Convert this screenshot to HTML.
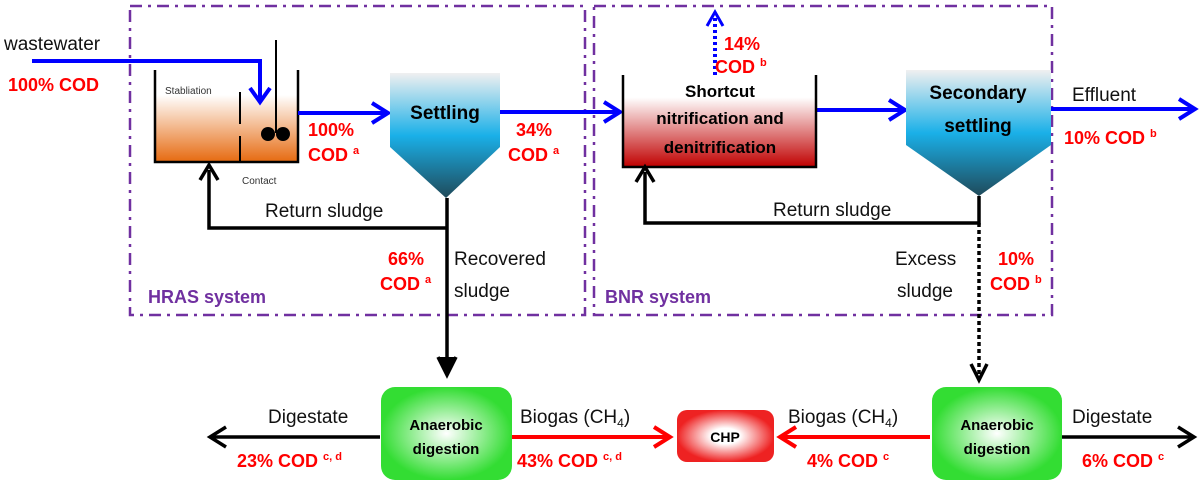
<!DOCTYPE html>
<html><head><meta charset="utf-8"><style>
body{margin:0;background:#fff}
svg{display:block}
text{font-family:"Liberation Sans",sans-serif}
.r{fill:#f00;font-weight:bold;font-size:18px}
.k{fill:#111;font-size:19px}
.s{font-size:11px;font-weight:bold;fill:#f00}
</style></head><body>
<svg width="1200" height="485" viewBox="0 0 1200 485" xmlns="http://www.w3.org/2000/svg">
<defs>
<linearGradient id="org" x1="0" y1="0" x2="0" y2="1"><stop offset="0" stop-color="#fff"/><stop offset="1" stop-color="#e66a10"/></linearGradient>
<linearGradient id="blu" x1="0" y1="0" x2="0" y2="1"><stop offset="0" stop-color="#f0f0f0"/><stop offset="0.5" stop-color="#1ab0e8"/><stop offset="1" stop-color="#1f4a5a"/></linearGradient>
<linearGradient id="red" x1="0" y1="0" x2="0" y2="1"><stop offset="0.2" stop-color="#fff"/><stop offset="1" stop-color="#c00000"/></linearGradient>
<radialGradient id="grn"><stop offset="0" stop-color="#fff"/><stop offset="1" stop-color="#33dd33"/></radialGradient>
<radialGradient id="rr"><stop offset="0.3" stop-color="#fff"/><stop offset="1" stop-color="#ee2222"/></radialGradient>
</defs>
<g fill="none" stroke="#7030a0" stroke-width="2.5" stroke-dasharray="12,6,3,6">
<rect x="130" y="6" width="455" height="309"/>
<rect x="594" y="6" width="458" height="309"/>
</g>
<rect x="155" y="95" width="143" height="67" fill="url(#org)"/>
<path d="M155 70V162H298V70" fill="none" stroke="#000" stroke-width="2.5"/>
<path d="M240 92V124M240 136V162M276 40V133" stroke="#000" stroke-width="2"/>
<circle cx="268" cy="134" r="7"/><circle cx="283" cy="134" r="7"/>
<text x="165" y="94" font-size="10" fill="#333">Stabliation</text>
<text x="242" y="184" font-size="10" fill="#333">Contact</text>
<g stroke="#0000ff" stroke-width="4" fill="none">
<path d="M32 61H260V100"/><path d="M250 88L260 102L270 88"/>
<path d="M298 113H386"/><path d="M372 103L388 113L372 123"/>
<path d="M500 112H618"/><path d="M604 102L620 112L604 122"/>
<path d="M816 110H903"/><path d="M889 100L905 110L889 120"/>
<path d="M1051 109H1193"/><path d="M1179 99L1195 109L1179 119"/>
<path d="M715 75V15" stroke-dasharray="3,3"/><path d="M707 26L715 12L723 26" stroke-width="3"/>
</g>
<path d="M390 73H500V147L446 198L390 147Z" fill="url(#blu)"/>
<text x="445" y="119" text-anchor="middle" font-weight="bold" font-size="19">Settling</text>
<rect x="623" y="80" width="193" height="87" fill="url(#red)"/>
<path d="M623 75V167H816V75" fill="none" stroke="#000" stroke-width="2.5"/>
<g text-anchor="middle" font-weight="bold" font-size="17"><text x="720" y="97">Shortcut</text><text x="720" y="124">nitrification and</text><text x="720" y="153">denitrification</text></g>
<path d="M906 70H1051V145L979 196L906 145Z" fill="url(#blu)"/>
<g text-anchor="middle" font-weight="bold" font-size="19"><text x="978" y="99">Secondary</text><text x="978" y="132">settling</text></g>
<g stroke="#000" stroke-width="3.5" fill="none">
<path d="M447 198V370M447 228H209V170"/><path d="M200 180L209 165L218 180"/><path d="M438 357L447 375L456 357" fill="#000"/>
<path d="M979 196V223H645V172"/><path d="M636 182L645 167L654 182"/>
<path d="M979 223V375" stroke-dasharray="4,3"/><path d="M971 364L979 380L987 364"/>
<path d="M380 437H212"/><path d="M226 427L210 437L226 447"/>
<path d="M1062 437H1192"/><path d="M1178 427L1194 437L1178 447"/>
</g>
<g stroke="#ff0000" stroke-width="4" fill="none">
<path d="M512 437H668"/><path d="M654 427L670 437L654 447"/>
<path d="M930 437H782"/><path d="M796 427L780 437L796 447"/>
</g>
<rect x="381" y="387" width="131" height="93" rx="14" fill="url(#grn)"/>
<rect x="932" y="387" width="130" height="93" rx="14" fill="url(#grn)"/>
<rect x="677" y="410" width="97" height="52" rx="10" fill="url(#rr)"/>
<g text-anchor="middle" font-weight="bold" font-size="15"><text x="446" y="430">Anaerobic</text><text x="446" y="454">digestion</text><text x="997" y="430">Anaerobic</text><text x="997" y="454">digestion</text><text x="725" y="442" font-size="14">CHP</text></g>
<text x="4" y="50" class="k">wastewater</text>
<text x="8" y="91" class="r">100% COD</text>
<text x="308" y="136" class="r">100%</text><text x="308" y="161" class="r">COD <tspan class="s" dy="-7">a</tspan></text>
<text x="516" y="136" class="r">34%</text><text x="508" y="161" class="r">COD <tspan class="s" dy="-7">a</tspan></text>
<text x="265" y="217" class="k">Return sludge</text>
<text x="388" y="265" class="r">66%</text><text x="380" y="290" class="r">COD <tspan class="s" dy="-7">a</tspan></text>
<text x="454" y="265" class="k">Recovered</text><text x="454" y="297" class="k">sludge</text>
<text x="148" y="303" font-size="18" font-weight="bold" fill="#7030a0">HRAS system</text>
<text x="605" y="303" font-size="18" font-weight="bold" fill="#7030a0">BNR system</text>
<text x="724" y="50" class="r">14%</text><text x="715" y="73" class="r">COD <tspan class="s" dy="-7">b</tspan></text>
<text x="1072" y="101" class="k">Effluent</text>
<text x="1064" y="144" class="r">10% COD <tspan class="s" dy="-7">b</tspan></text>
<text x="773" y="216" class="k">Return sludge</text>
<text x="895" y="265" class="k">Excess</text><text x="897" y="297" class="k">sludge</text>
<text x="998" y="265" class="r">10%</text><text x="990" y="290" class="r">COD <tspan class="s" dy="-7">b</tspan></text>
<text x="268" y="423" class="k">Digestate</text>
<text x="237" y="467" class="r">23% COD <tspan class="s" dy="-7">c, d</tspan></text>
<text x="520" y="423" class="k">Biogas (CH<tspan font-size="12" dy="4">4</tspan><tspan dy="-4">)</tspan></text>
<text x="517" y="467" class="r">43% COD <tspan class="s" dy="-7">c, d</tspan></text>
<text x="788" y="423" class="k">Biogas (CH<tspan font-size="12" dy="4">4</tspan><tspan dy="-4">)</tspan></text>
<text x="807" y="467" class="r">4% COD <tspan class="s" dy="-7">c</tspan></text>
<text x="1072" y="423" class="k">Digestate</text>
<text x="1082" y="467" class="r">6% COD <tspan class="s" dy="-7">c</tspan></text>
</svg>
</body></html>
